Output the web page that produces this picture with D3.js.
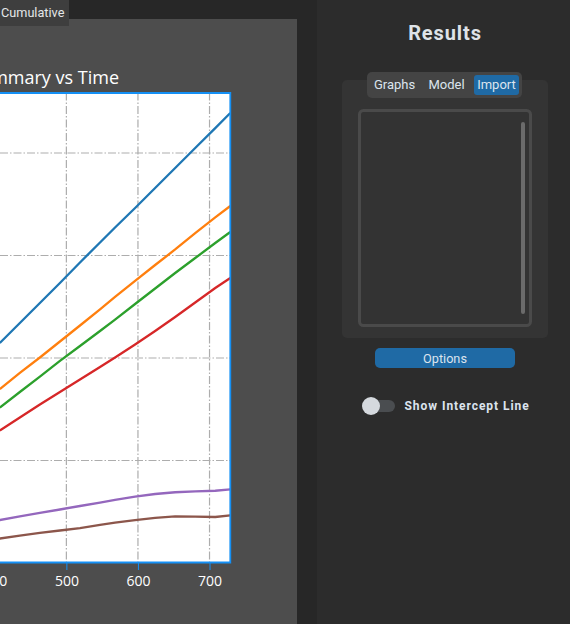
<!DOCTYPE html>
<html>
<head>
<meta charset="utf-8">
<script src="https://cdnjs.cloudflare.com/ajax/libs/d3/7.8.5/d3.min.js"></script>
<style>
html, body { margin: 0; padding: 0; background: #2c2c2c; overflow: hidden; }
svg { display: block; }
text { font-family: Roboto, sans-serif; }
</style>
</head>
<body>
<div id="page"></div>
<script>
// values, y in grid units (one gridline = 100)
const times = [407, 435, 463, 491, 519, 547, 568, 596, 624, 652, 680, 708, 729];
const blue = [214.6, 234.1, 253.6, 273.2, 293.2, 312.7, 327.3, 346.3, 365.8, 385.3, 404.8, 424.3, 439.0];
const orange = [169.7, 185.4, 200.5, 216.1, 231.7, 247.4, 259.6, 275.2, 290.7, 305.9, 321.9, 337.1, 348.3];
const green = [151.7, 166.8, 181.9, 197.1, 211.7, 226.3, 237.5, 252.7, 267.8, 282.9, 297.5, 312.2, 322.9];
const red = [129.3, 141.9, 154.6, 166.8, 179, 191.2, 200.5, 213.2, 226.3, 240, 254.1, 268.3, 278];
const purple = [41.9, 45.4, 48.8, 52.2, 55.6, 59, 61.5, 64.7, 67.3, 69, 69.9, 70.5, 71.9];
const brown = [23.9, 26.8, 29.3, 31.7, 34.1, 37.1, 39.3, 41.9, 44.1, 45.4, 45.2, 44.9, 46.5];
const seriesList = [blue, orange, green, red, purple, brown];
const seriesColors = ["#1f77b4", "#ff7f0e", "#2ca02c", "#d62728", "#9467bd", "#8c564b"];
const xTicks = [400, 500, 600, 700];
const yTicks = [100, 200, 300, 400];
const tabs = ["Graphs", "Model", "Import"];

const canvas = d3.select("#page").append("svg").attr("width", 570).attr("height", 624);

// page background and panels
canvas.append("rect").attr("width", 570).attr("height", 624).attr("fill", "#2c2c2c");
canvas.append("rect").attr("width", 317).attr("height", 624).attr("fill", "#272727");
canvas.append("rect").attr("y", 19).attr("width", 297).attr("height", 605).attr("fill", "#4d4d4d");
canvas.append("rect").attr("width", 69).attr("height", 26).attr("fill", "#3e3e3e");
canvas.append("text").attr("x", 1).attr("y", 17).attr("font-size", 12.7).attr("fill", "#e4e6e8").text("Cumulative");

// chart
const plot = { left: -291.5, right: 231, top: 92.5, bottom: 563 };
const x = d3.scaleLinear().domain([0, 730]).range([plot.left, plot.right]);
const y = d3.scaleLinear().domain([0, 459]).range([plot.bottom, plot.top]);

canvas.append("text")
    .attr("x", 119).attr("y", 84).attr("text-anchor", "end")
    .attr("font-size", 18).attr("fill", "#ffffff")
    .style("font-family", "'Open Sans'")
    .text("Summary vs Time");

canvas.append("rect")
    .attr("x", 0).attr("y", plot.top)
    .attr("width", plot.right).attr("height", plot.bottom - plot.top)
    .attr("fill", "#ffffff");

const grid = canvas.append("g")
    .attr("stroke", "#adadad").attr("stroke-width", 1.2).attr("stroke-dasharray", "8,2,1.5,2");
grid.selectAll(".gx").data(xTicks).enter().append("line")
    .attr("x1", d => x(d)).attr("x2", d => x(d))
    .attr("y1", plot.top).attr("y2", plot.bottom);
grid.selectAll(".gy").data(yTicks).enter().append("line")
    .attr("x1", 0).attr("x2", plot.right)
    .attr("y1", d => y(d)).attr("y2", d => y(d));

const line = d3.line()
    .x((d, i) => x(times[i]))
    .y(d => y(d));
canvas.append("g").selectAll("path").data(seriesList).enter().append("path")
    .attr("d", line)
    .attr("fill", "none")
    .attr("stroke", (d, i) => seriesColors[i])
    .attr("stroke-width", 2.3);

// blue frame, no left edge on screen
canvas.append("path")
    .attr("d", d3.line()([[0, 93], [230.3, 93], [230.3, 562.5], [0, 562.5]]))
    .attr("fill", "none").attr("stroke", "#1490f5").attr("stroke-width", 1.8);

const xAxis = canvas.append("g")
    .attr("transform", "translate(0," + plot.bottom + ")")
    .call(d3.axisBottom(x).tickValues(xTicks).tickSize(7).tickPadding(6));
xAxis.select(".domain").remove();
xAxis.selectAll("line").attr("stroke", "#1490f5");
xAxis.selectAll("text")
    .attr("fill", "#ffffff").attr("font-size", 14)
    .style("font-family", "'Open Sans'");

// results column
canvas.append("text")
    .attr("x", 445).attr("y", 40).attr("text-anchor", "middle")
    .attr("font-size", 20).attr("font-weight", 700).attr("letter-spacing", 0.9).attr("fill", "#dfe3e8")
    .text("Results");
canvas.append("rect").attr("x", 342).attr("y", 80).attr("width", 206).attr("height", 258).attr("rx", 5).attr("fill", "#343434");
canvas.append("rect").attr("x", 367).attr("y", 72).attr("width", 155).attr("height", 26).attr("rx", 5).attr("fill", "#444444");
canvas.append("rect").attr("x", 474).attr("y", 75).attr("width", 45).attr("height", 20).attr("rx", 3).attr("fill", "#1f6aa5");
canvas.selectAll(".tab").data(tabs).enter().append("text")
    .attr("x", (d, i) => [394.5, 446.5, 496.5][i])
    .attr("y", 89).attr("text-anchor", "middle")
    .attr("font-size", 13).attr("fill", "#dce4ee")
    .text(d => d);
canvas.append("rect").attr("x", 359.5).attr("y", 110.5).attr("width", 171).attr("height", 215).attr("rx", 4)
    .attr("fill", "#333333").attr("stroke", "#4a4a4a").attr("stroke-width", 3);
canvas.append("rect").attr("x", 521).attr("y", 122).attr("width", 4).attr("height", 192).attr("rx", 2).attr("fill", "#6b6b6b");
canvas.append("rect").attr("x", 375).attr("y", 348).attr("width", 140).attr("height", 20).attr("rx", 5).attr("fill", "#1f6aa5");
canvas.append("text").attr("x", 445).attr("y", 363).attr("text-anchor", "middle")
    .attr("font-size", 12.7).attr("fill", "#dce4ee").text("Options");
canvas.append("rect").attr("x", 363).attr("y", 400).attr("width", 32).attr("height", 12).attr("rx", 6).attr("fill", "#4a4d50");
canvas.append("circle").attr("cx", 371).attr("cy", 406).attr("r", 9).attr("fill", "#d5d9de");
canvas.append("text").attr("x", 404.5).attr("y", 410)
    .attr("font-size", 12).attr("font-weight", 700).attr("letter-spacing", 0.95).attr("fill", "#dce4ee")
    .text("Show Intercept Line");
</script>
</body>
</html>
